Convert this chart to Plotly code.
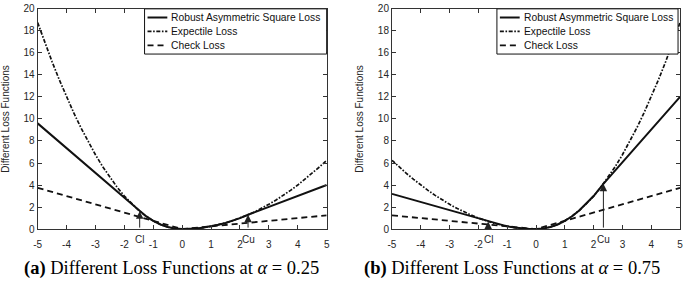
import plotly.graph_objects as go

# ---------------- data ----------------
x_grid = [-5, -4.75, -4.5, -4.25, -4, -3.75, -3.5, -3.25, -3, -2.75, -2.5, -2.25, -2,
          -1.75, -1.5, -1.25, -1, -0.75, -0.5, -0.25, 0, 0.25, 0.5, 0.75, 1, 1.25,
          1.5, 1.75, 2, 2.25, 2.5, 2.75, 3, 3.25, 3.5, 3.75, 4, 4.25, 4.5, 4.75, 5]

# alpha = 0.25
exp_a = [18.75, 16.92, 15.19, 13.55, 12.0, 10.55, 9.19, 7.92, 6.75, 5.67, 4.69, 3.80, 3.0,
         2.30, 1.69, 1.17, 0.75, 0.42, 0.19, 0.05, 0, 0.02, 0.06, 0.14, 0.25, 0.39,
         0.56, 0.77, 1.0, 1.27, 1.56, 1.89, 2.25, 2.64, 3.06, 3.52, 4.0, 4.52, 5.06, 5.64, 6.25]
ras_a_x = [-5, -1.47, -1.25, -1, -0.75, -0.5, -0.25, 0, 0.25, 0.5, 0.75, 1, 1.25, 1.5, 1.75, 2, 2.28, 5]
ras_a_y = [9.6, 1.62, 1.17, 0.75, 0.42, 0.19, 0.05, 0, 0.02, 0.06, 0.14, 0.25, 0.39, 0.56, 0.77, 1.0, 1.30, 4.0]
chk_a_x = [-5, 0, 5]
chk_a_y = [3.75, 0, 1.25]
cl_a, cl_a_y = -1.47, 1.62
cu_a, cu_a_y = 2.28, 1.30

# alpha = 0.75
exp_b = [6.25, 5.64, 5.06, 4.52, 4.0, 3.52, 3.06, 2.64, 2.25, 1.89, 1.56, 1.27, 1.0,
         0.77, 0.56, 0.39, 0.25, 0.14, 0.06, 0.02, 0, 0.05, 0.19, 0.42, 0.75, 1.17,
         1.69, 2.30, 3.0, 3.80, 4.69, 5.67, 6.75, 7.92, 9.19, 10.55, 12.0, 13.55, 15.19, 16.92, 18.75]
ras_b_x = [-5, -1.66, -1.5, -1.25, -1, -0.75, -0.5, -0.25, 0, 0.25, 0.5, 0.75, 1, 1.25, 1.5, 1.75, 2, 2.34, 5]
ras_b_y = [3.2, 0.69, 0.56, 0.39, 0.25, 0.14, 0.06, 0.02, 0, 0.05, 0.19, 0.42, 0.75, 1.17, 1.69, 2.30, 3.0, 4.11, 12.0]
chk_b_x = [-5, 0, 5]
chk_b_y = [1.25, 0, 3.75]
cl_b, cl_b_y = -1.66, 0.69
cu_b, cu_b_y = 2.34, 4.11

x_ticks = [-5, -4, -3, -2, -1, 0, 1, 2, 3, 4, 5]
x_tick_text = ["-5", "-4", "-3", "-2", "-1", "0", "1", "2", "3", "4", "5"]
y_ticks = [0, 2, 4, 6, 8, 10, 12, 14, 16, 18, 20]
names = ["Robust Asymmetric Square Loss", "Expectile Loss", "Check Loss"]
captions = ["<b>(a)</b> Different Loss Functions at <i>α</i> = 0.25",
            "<b>(b)</b> Different Loss Functions at <i>α</i> = 0.75"]

# ---------------- styling ----------------
W, H = 685, 288
ink = "#111111"
styles = [dict(color=ink, width=2),
          dict(color=ink, width=1.7, dash="4px,1.6px,1.6px,1.6px"),
          dict(color=ink, width=1.8, dash="6px,4px")]
FONT = "Liberation Sans"

def px(xp):
    return xp / W

def py(yp):
    return 1 - yp / H

fig = go.Figure()
panels = [
    ("x", "y", ras_a_x, ras_a_y, exp_a, chk_a_x, chk_a_y,
     [(cl_a, cl_a_y, "Cl"), (cu_a, cu_a_y, "Cu")], (142, 326, 145, 165, 167)),
    ("x2", "y2", ras_b_x, ras_b_y, exp_b, chk_b_x, chk_b_y,
     [(cl_b, cl_b_y, "Cl"), (cu_b, cu_b_y, "Cu")], (498, 681, 501, 521, 523)),
]
for xa, ya, rx, ry, ey, cx, cy, marks, box in panels:
    series = [(rx, ry), (x_grid, ey), (cx, cy)]
    for k, (sx, sy) in enumerate(series):
        fig.add_trace(go.Scatter(x=sx, y=sy, mode="lines", name=names[k], xaxis=xa, yaxis=ya,
                                 showlegend=False, line=styles[k]))
    for c, cyv, lab in marks:
        fig.add_annotation(x=c, y=cyv, ax=c, ay=0, xref=xa, yref=ya, axref=xa, ayref=ya,
                           showarrow=True, arrowhead=2, arrowsize=1.5, arrowwidth=1,
                           arrowcolor="#222222", text="")
        fig.add_annotation(x=c, y=0, xref=xa, yref=ya, text=lab, showarrow=False,
                           yanchor="top", yshift=-3, font=dict(size=10, color="#262626", family=FONT))
    # legend box (drawn above the data, like the original)
    bx0, bx1, lx0, lx1, tx = box
    fig.add_shape(type="rect", xref="paper", yref="paper", x0=px(bx0), x1=px(bx1),
                  y0=py(51), y1=py(4), fillcolor="white", line=dict(color=ink, width=1),
                  layer="above")
    for k, yrow in enumerate([13, 27.5, 42]):
        fig.add_shape(type="line", xref="paper", yref="paper", x0=px(lx0), x1=px(lx1),
                      y0=py(yrow), y1=py(yrow), line=styles[k], layer="above")
        fig.add_annotation(x=px(tx), y=py(yrow), xref="paper", yref="paper", text=names[k],
                           showarrow=False, xanchor="left", yanchor="middle",
                           font=dict(size=10.3, family=FONT, color=ink))

ax_common = dict(showline=True, linecolor="#333333", linewidth=1, mirror="allticks",
                 ticks="inside", ticklen=4, tickcolor="#333333", showgrid=False,
                 zeroline=False, ticklabeloverflow="allow",
                 tickfont=dict(size=10, color="#262626", family=FONT))
ytitle = dict(text="Different Loss Functions", font=dict(size=10, family=FONT, color="#262626"),
              standoff=12)

fig.update_layout(
    width=W, height=H, margin=dict(l=0, r=0, t=0, b=0), showlegend=False,
    paper_bgcolor="white", plot_bgcolor="white",
    xaxis=dict(domain=[px(34), px(326)], range=[-5, 5], tickvals=x_ticks, ticktext=x_tick_text,
               anchor="y", ticklabelstandoff=6, **ax_common),
    yaxis=dict(domain=[py(233), py(4)], range=[0, 20], tickvals=y_ticks, anchor="x",
               title=ytitle, **ax_common),
    xaxis2=dict(domain=[px(392), px(683)], range=[-5, 5], tickvals=x_ticks, ticktext=x_tick_text,
                anchor="y2", ticklabelstandoff=6, **ax_common),
    yaxis2=dict(domain=[py(233), py(4)], range=[0, 20], tickvals=y_ticks, anchor="x2",
                title=ytitle, **ax_common),
)
for cap, x0 in zip(captions, [18, 362]):
    fig.add_annotation(x=px(x0), y=py(274), xref="paper", yref="paper", text=cap,
                       showarrow=False, xanchor="left", yanchor="middle",
                       font=dict(size=18.5, family="Liberation Serif", color="black"))

fig.write_html("out.html", config={"displayModeBar": False},
               post_script="document.body.style.margin='0';")
